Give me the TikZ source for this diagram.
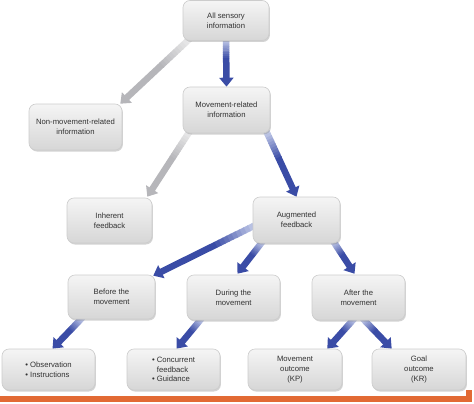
\documentclass[tikz,border=0pt]{standalone}
\usepackage{fontspec}
\setmainfont{Liberation Sans}
\usetikzlibrary{arrows.meta,calc,shadows,backgrounds}
\definecolor{ablue}{RGB}{58,76,166}
\definecolor{ablueL}{RGB}{214,220,242}
\definecolor{agray}{RGB}{182,182,186}
\definecolor{agrayL}{RGB}{240,240,240}
\definecolor{orng}{RGB}{226,106,52}
\definecolor{txt}{RGB}{50,50,50}
\tikzset{
  box/.style={rectangle, rounded corners=7pt, draw=gray!40, line width=0.6pt,
    top color=gray!8, bottom color=gray!32,
    drop shadow={shadow xshift=0.9pt, shadow yshift=-1.5pt, opacity=0.35},
    text=txt, font=\fontsize{7.7}{9.8}\selectfont, align=center, inner sep=2pt},
}
\newcommand\fatarrow[4]{%
  \foreach \i in {0,...,9}{%
    \pgfmathsetmacro\pa{\i*0.04}%
    \pgfmathsetmacro\pb{(\i+1)*0.04+0.008}%
    \pgfmathtruncatemacro\pc{10+\i*9}%
    \draw[line width=6.5pt, #3!\pc!#4] ($(#1)!\pa!(#2)$) -- ($(#1)!\pb!(#2)$);
  }%
  \draw[line width=6.5pt, #3, -{Triangle[width=14pt,length=9pt]}] ($(#1)!0.4!(#2)$) -- (#2);
}
\begin{document}
\begin{tikzpicture}[x=1pt,y=-1pt]
\useasboundingbox (0,0) rectangle (474,404);
% nodes
\node[box, minimum width=86pt, minimum height=40pt] (all) at (226,20.5) {All sensory\\information};
\node[box, minimum width=93pt, minimum height=46pt] (nonmov) at (75.5,127) {Non-movement-related\\information};
\node[box, minimum width=87pt, minimum height=46pt] (mov) at (226.5,110) {Movement-related\\information};
\node[box, minimum width=85pt, minimum height=45pt] (inh) at (109.5,220.5) {Inherent\\feedback};
\node[box, minimum width=87pt, minimum height=46pt] (aug) at (296.5,220) {Augmented\\feedback};
\node[box, minimum width=87pt, minimum height=44pt] (before) at (111.5,297) {Before the\\movement};
\node[box, minimum width=93pt, minimum height=45pt] (during) at (233.5,297.5) {During the\\movement};
\node[box, minimum width=93pt, minimum height=45pt] (after) at (358.5,297.5) {After the\\movement};
\node[box, minimum width=93pt, minimum height=41pt, align=left] (obs) at (48.5,369.5) {\textbullet\ Observation\\\textbullet\ Instructions};
\node[box, minimum width=93pt, minimum height=41pt, align=left] (conc) at (173.5,369.5) {\textbullet\ Concurrent\\\phantom{\textbullet\ }feedback\\\textbullet\ Guidance};
\node[box, minimum width=94pt, minimum height=41pt] (movout) at (295,369.5) {Movement\\outcome\\(KP)};
\node[box, minimum width=94pt, minimum height=41pt] (goal) at (419,369.5) {Goal\\outcome\\(KR)};
% connector end points
\coordinate (s1) at ($(all.south west)+(7,-2)$);
\coordinate (e1) at ($(nonmov.north east)+(-2,0)$);
\coordinate (s2) at ($(all.south)+(0,-2)$);
\coordinate (e2) at (mov.north);
\coordinate (s3) at ($(mov.south west)+(7,-2)$);
\coordinate (e3) at ($(inh.north east)+(-5,-1)$);
\coordinate (s4) at ($(mov.south east)+(-4,-2)$);
\coordinate (e4) at (aug.north);
\coordinate (s5) at ($(aug.west)+(5,4)$);
\coordinate (e5) at ($(before.north east)+(-2,1)$);
\coordinate (s6) at ($(aug.south west)+(10,-2)$);
\coordinate (e6) at ($(during.north)+(4,-1)$);
\coordinate (s7) at ($(aug.south east)+(-7,-2)$);
\coordinate (e7) at ($(after.north)+(-4,-1)$);
\coordinate (s8) at ($(before.south west)+(15,-2)$);
\coordinate (e8) at ($(obs.north)+(4,0)$);
\coordinate (s9) at ($(during.south west)+(15,-2)$);
\coordinate (e9) at ($(conc.north)+(3,0)$);
\coordinate (s10) at ($(after.south)+(-4,-2)$);
\coordinate (e10) at ($(movout.north east)+(-15,0)$);
\coordinate (s11) at ($(after.south)+(4,-2)$);
\coordinate (e11) at ($(goal.north west)+(20,0)$);
\begin{scope}[on background layer]
\fatarrow{s1}{e1}{agray}{agrayL}
\fatarrow{s2}{e2}{ablue}{ablueL}
\fatarrow{s3}{e3}{agray}{agrayL}
\fatarrow{s4}{e4}{ablue}{ablueL}
\fatarrow{s5}{e5}{ablue}{ablueL}
\fatarrow{s6}{e6}{ablue}{ablueL}
\fatarrow{s7}{e7}{ablue}{ablueL}
\fatarrow{s8}{e8}{ablue}{ablueL}
\fatarrow{s9}{e9}{ablue}{ablueL}
\fatarrow{s10}{e10}{ablue}{ablueL}
\fatarrow{s11}{e11}{ablue}{ablueL}
\end{scope}
% orange rule
\fill[orng] (0,396) rectangle (472,402);
\fill[orng] (466,390) rectangle (472,402);
\end{tikzpicture}
\end{document}
